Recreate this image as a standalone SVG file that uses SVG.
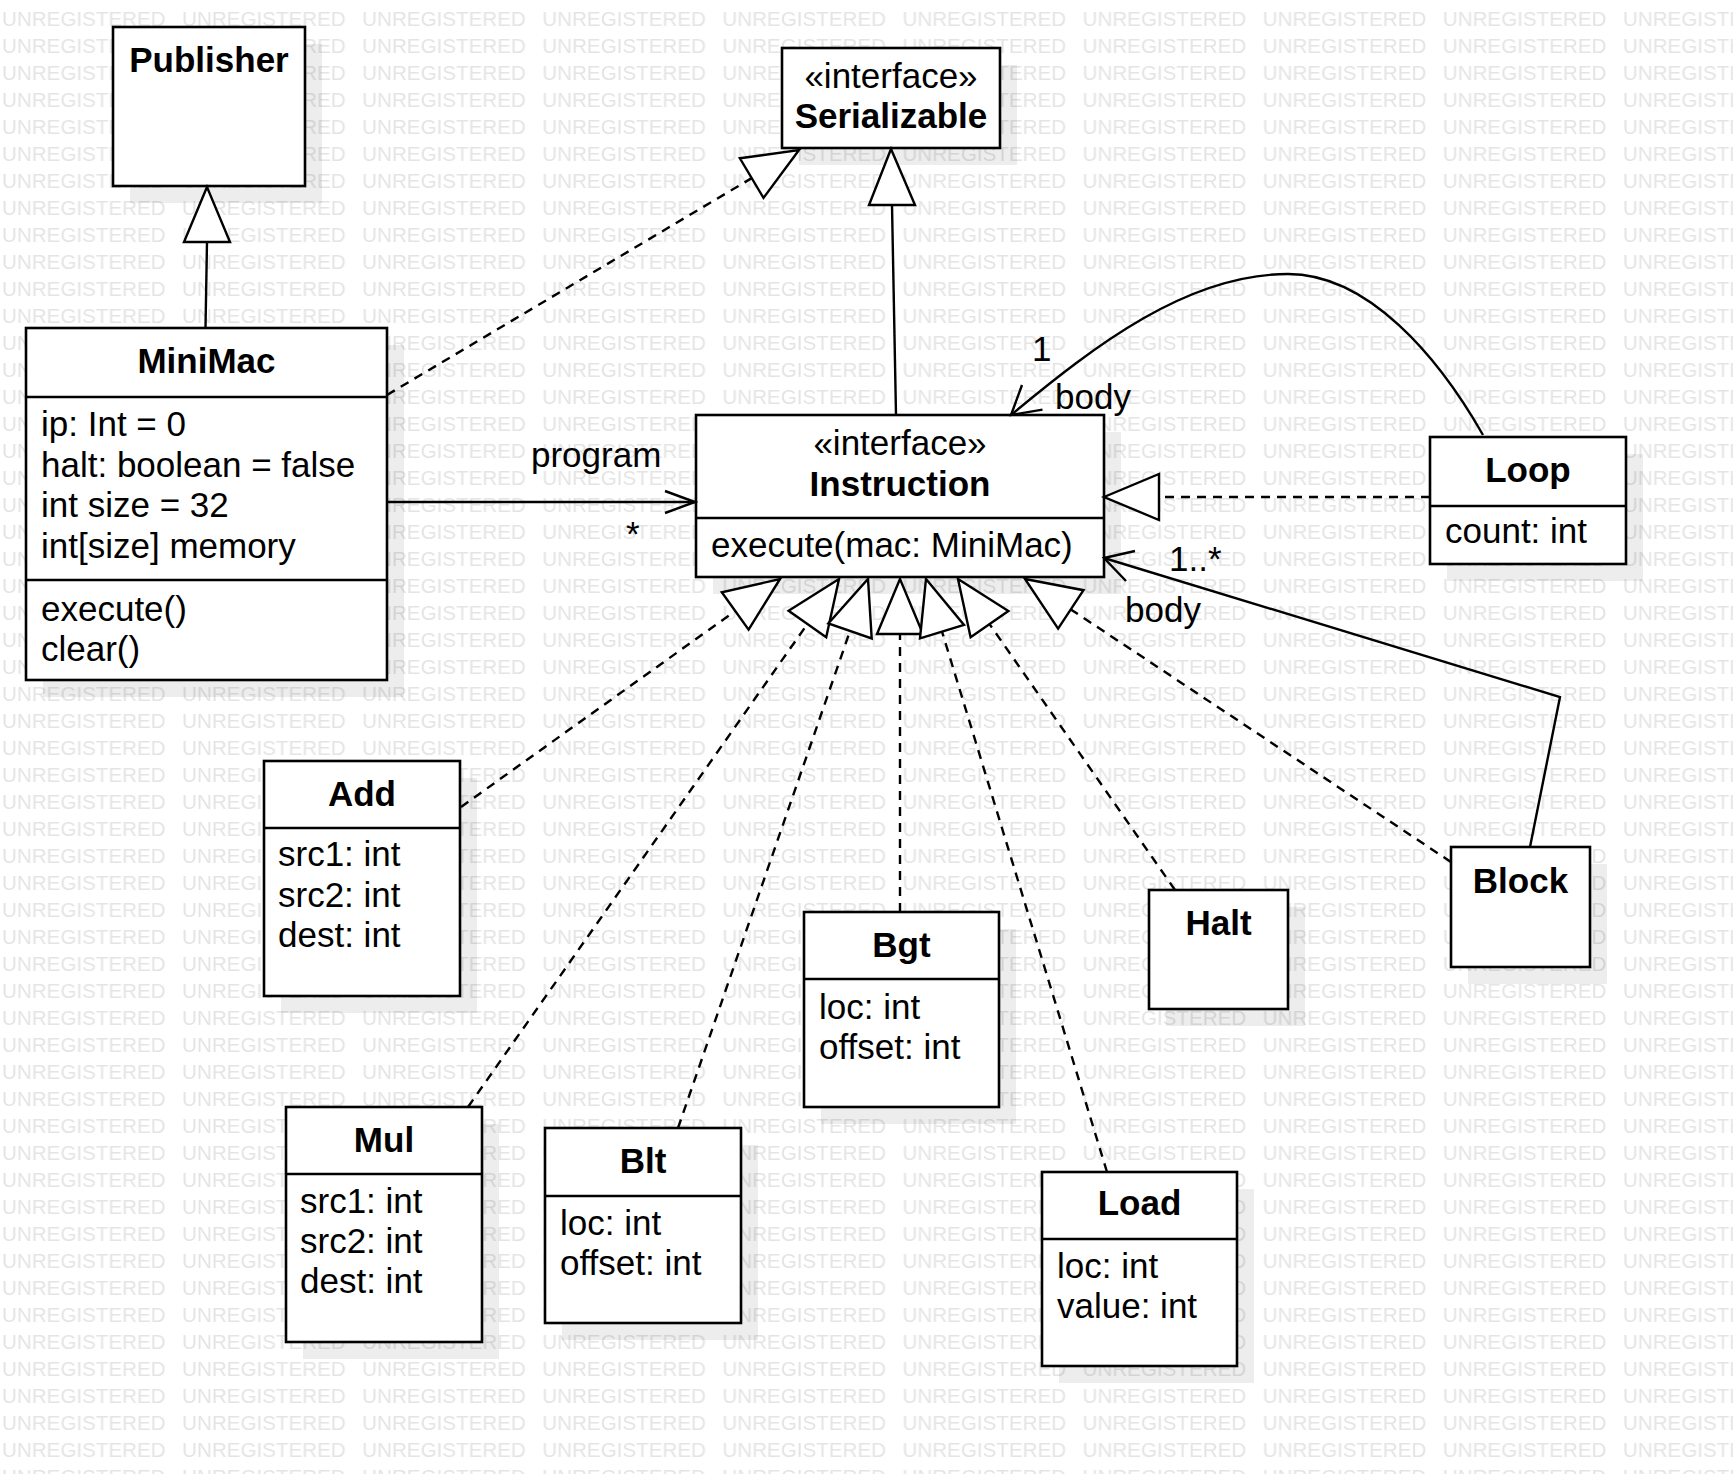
<svg xmlns="http://www.w3.org/2000/svg" width="1733" height="1474" viewBox="0 0 1733 1474">
<style>
.bx{fill:#fff;stroke:#000;stroke-width:2.6}
.sh{fill:#000;fill-opacity:.07}
.dv{stroke:#000;stroke-width:2.6}
.t{font-family:"Liberation Sans",Arial,Helvetica,sans-serif;font-size:35px;fill:#000}
.b{font-weight:bold}
.c{text-anchor:middle}
.ln{fill:none;stroke:#000;stroke-width:2.4}
.d{stroke-dasharray:9 7}
.tri{fill:#fff;stroke:#000;stroke-width:2.4}
.wm{font-family:"Liberation Sans",Arial,sans-serif;font-size:20.6px;fill:#e4e4e4}
</style>
<defs>
<pattern id="wmp" patternUnits="userSpaceOnUse" x="2" y="0" width="180.1" height="27">
<text class="wm" x="0" y="26">UNREGISTERED</text>
</pattern>
</defs>
<rect width="1733" height="1474" fill="#fff"/>
<rect width="1733" height="1474" fill="url(#wmp)"/>

<g id="Publisher">
<rect class="sh" x="130" y="44" width="192" height="159"/>
<rect class="bx" x="113" y="27" width="192" height="159"/>
<text class="t b c" x="209" y="72">Publisher</text>
</g>

<g id="MiniMac">
<rect class="sh" x="43" y="345" width="361" height="352"/>
<rect class="bx" x="26" y="328" width="361" height="352"/>
<line class="dv" x1="26" y1="397" x2="387" y2="397"/>
<line class="dv" x1="26" y1="580" x2="387" y2="580"/>
<text class="t b c" x="206.5" y="373">MiniMac</text>
<text class="t" x="41" y="436">ip: Int = 0</text>
<text class="t" x="41" y="476.5">halt: boolean = false</text>
<text class="t" x="41" y="517">int size = 32</text>
<text class="t" x="41" y="557.5">int[size] memory</text>
<text class="t" x="41" y="621">execute()</text>
<text class="t" x="41" y="661">clear()</text>
</g>

<g id="Serializable">
<rect class="sh" x="799" y="65" width="218" height="100"/>
<rect class="bx" x="782" y="48" width="218" height="100"/>
<text class="t c" x="891" y="88">«interface»</text>
<text class="t b c" x="891" y="128">Serializable</text>
</g>

<g id="Instruction">
<rect class="sh" x="713" y="432" width="408" height="162"/>
<rect class="bx" x="696" y="415" width="408" height="162"/>
<line class="dv" x1="696" y1="518" x2="1104" y2="518"/>
<text class="t c" x="900" y="455">«interface»</text>
<text class="t b c" x="900" y="496">Instruction</text>
<text class="t" x="711" y="557">execute(mac: MiniMac)</text>
</g>

<g id="Loop">
<rect class="sh" x="1447" y="454" width="196" height="127"/>
<rect class="bx" x="1430" y="437" width="196" height="127"/>
<line class="dv" x1="1430" y1="506" x2="1626" y2="506"/>
<text class="t b c" x="1528" y="482">Loop</text>
<text class="t" x="1445" y="543">count: int</text>
</g>

<g id="Add">
<rect class="sh" x="281" y="778" width="196" height="235"/>
<rect class="bx" x="264" y="761" width="196" height="235"/>
<line class="dv" x1="264" y1="828" x2="460" y2="828"/>
<text class="t b c" x="362" y="806">Add</text>
<text class="t" x="278" y="866">src1: int</text>
<text class="t" x="278" y="906.5">src2: int</text>
<text class="t" x="278" y="947">dest: int</text>
</g>

<g id="Mul">
<rect class="sh" x="303" y="1124" width="196" height="235"/>
<rect class="bx" x="286" y="1107" width="196" height="235"/>
<line class="dv" x1="286" y1="1174" x2="482" y2="1174"/>
<text class="t b c" x="384" y="1152">Mul</text>
<text class="t" x="300" y="1213">src1: int</text>
<text class="t" x="300" y="1253">src2: int</text>
<text class="t" x="300" y="1293">dest: int</text>
</g>

<g id="Blt">
<rect class="sh" x="562" y="1145" width="196" height="195"/>
<rect class="bx" x="545" y="1128" width="196" height="195"/>
<line class="dv" x1="545" y1="1196" x2="741" y2="1196"/>
<text class="t b c" x="643" y="1173">Blt</text>
<text class="t" x="560" y="1235">loc: int</text>
<text class="t" x="560" y="1275">offset: int</text>
</g>

<g id="Bgt">
<rect class="sh" x="821" y="929" width="195" height="195"/>
<rect class="bx" x="804" y="912" width="195" height="195"/>
<line class="dv" x1="804" y1="979" x2="999" y2="979"/>
<text class="t b c" x="901.5" y="957">Bgt</text>
<text class="t" x="819" y="1019">loc: int</text>
<text class="t" x="819" y="1059">offset: int</text>
</g>

<g id="Load">
<rect class="sh" x="1059" y="1189" width="195" height="194"/>
<rect class="bx" x="1042" y="1172" width="195" height="194"/>
<line class="dv" x1="1042" y1="1239" x2="1237" y2="1239"/>
<text class="t b c" x="1139.5" y="1215">Load</text>
<text class="t" x="1057" y="1278">loc: int</text>
<text class="t" x="1057" y="1318">value: int</text>
</g>

<g id="Halt">
<rect class="sh" x="1166" y="907" width="139" height="119"/>
<rect class="bx" x="1149" y="890" width="139" height="119"/>
<text class="t b c" x="1218.5" y="935">Halt</text>
</g>

<g id="Block">
<rect class="sh" x="1468" y="864" width="139" height="120"/>
<rect class="bx" x="1451" y="847" width="139" height="120"/>
<text class="t b c" x="1520.5" y="893">Block</text>
</g>

<g id="connectors">
<line class="ln" x1="205.5" y1="328" x2="207" y2="242"/>
<polygon class="tri" points="207,187 184,242 230,242"/>
<line class="ln" x1="896" y1="415" x2="892" y2="205"/>
<polygon class="tri" points="891,149 869,205 915,205"/>
<line class="ln d" x1="387" y1="395" x2="751.7" y2="178.1"/>
<polygon class="tri" points="799,150 763.5,197.9 739.9,158.3"/>
<line class="ln" x1="387" y1="502" x2="695" y2="502"/>
<polyline class="ln" points="665,491 695,502 665,513"/>
<text class="t" x="531" y="467">program</text>
<text class="t" x="626" y="546">*</text>
<line class="ln d" x1="1430" y1="497" x2="1159" y2="497"/>
<polygon class="tri" points="1104,497 1159,474 1159,520"/>
<path class="ln" d="M1483,435 C1438,356 1368,274 1288,274 C1188,274 1095,345 1011,415"/>
<polyline class="ln" points="1042.5,409.6 1011,415 1022,385"/>
<text class="t" x="1032" y="361">1</text>
<text class="t" x="1055" y="409">body</text>
<polyline class="ln" points="1530,847 1560,697 1104,558"/>
<polyline class="ln" points="1135,551 1104,558 1126,581"/>
<text class="t" x="1169" y="571">1..*</text>
<text class="t" x="1125" y="622">body</text>
<line class="ln d" x1="461" y1="807" x2="735.2" y2="611"/>
<polygon class="tri" points="780,579 748.6,629.7 721.8,592.3"/>
<line class="ln d" x1="468" y1="1107" x2="807.4" y2="624"/>
<polygon class="tri" points="839,579 826.2,637.2 788.6,610.8"/>
<line class="ln d" x1="678" y1="1128" x2="850" y2="631"/>
<polygon class="tri" points="868,579 871.7,638.5 828.3,623.5"/>
<line class="ln d" x1="900" y1="912" x2="900" y2="634"/>
<polygon class="tri" points="900,579 877,634 923,634"/>
<line class="ln d" x1="1107" y1="1172" x2="942" y2="631.6"/>
<polygon class="tri" points="926,579 964,624.9 920,638.3"/>
<line class="ln d" x1="1175" y1="890" x2="989.5" y2="624.1"/>
<polygon class="tri" points="958,579 1008.4,611 970.6,637.3"/>
<line class="ln d" x1="1451" y1="862" x2="1070.8" y2="609.4"/>
<polygon class="tri" points="1025,579 1083.5,590.2 1058.1,628.6"/>
</g>
</svg>
